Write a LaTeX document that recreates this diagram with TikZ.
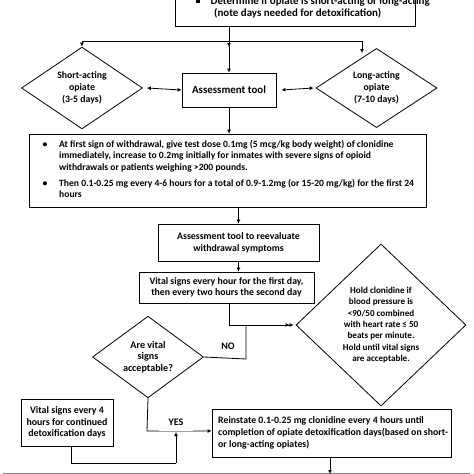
\documentclass[tikz,border=0pt]{standalone}
\usepackage{fontspec}
\setmainfont{Carlito}
\usetikzlibrary{arrows.meta,shapes.geometric}
\newcommand{\fz}[2]{\bfseries\fontsize{#1}{#2}\selectfont}
\tikzset{
  box/.style={draw, line width=0.8pt, fill=white, inner sep=0pt},
  dia/.style={draw, diamond, line width=0.8pt, fill=white, inner sep=0pt, align=center},
  lbl/.style={align=center, inner sep=0pt},
  ltxt/.style={align=left, inner sep=0pt, anchor=north west},
  line/.style={line width=0.8pt},
  arr/.style={line width=0.8pt, -{Latex[length=4pt,width=4pt]}},
  darr/.style={line width=0.8pt, {Latex[length=4pt,width=4pt]}-{Latex[length=4pt,width=4pt]}},
  ddarr/.style={line width=0.8pt, -{Latex[length=4pt,width=4pt]Latex[length=4pt,width=4pt]}},
  tag/.style={fill=white, inner sep=0pt, minimum width=34pt, minimum height=18pt, font=\fz{10}{12}}
}
\begin{document}
\begin{tikzpicture}[x=1pt,y=-1pt]
\useasboundingbox (0,0) rectangle (474,474);
% top box (cut by the top edge)
\node[box, minimum width=240pt, minimum height=50pt] (top) at (295,1) {};
\node[ltxt, font=\fz{10.9}{11.6}] (toptxt) at (196,-3) {\rule[2pt]{3.5pt}{3.5pt}\hspace{11pt}Determine if opiate is short-acting or long-acting\\\hspace{18pt}(note days needed for detoxification)};
% junction
\coordinate (jM) at (229,41);
\coordinate (jL) at (82,41);
\coordinate (jR) at (362,41);
% diamonds
\node[dia, font=\fz{9.8}{12}, minimum width=121pt, minimum height=76pt] (sd) at (82,88) {Short-acting\\opiate\\(3-5 days)};
\node[dia, font=\fz{9.8}{12}, minimum width=121pt, minimum height=76pt] (ld) at (376.5,88) {Long-acting\\opiate\\(7-10 days)};
\node[box, lbl, font=\fz{10.9}{12}, minimum width=94pt, minimum height=34pt] (assess) at (229,90) {Assessment tool};
% big box
\node[box, minimum width=397pt, minimum height=73pt] (big) at (227.5,170.5) {};
\node[lbl, font=\fz{9.6}{11.5}] (b1) at (45,145) {\textbullet};
\node[lbl, font=\fz{9.6}{11.5}] (b2) at (45,184) {\textbullet};
\node[ltxt, font=\fz{9.6}{11.5}] (bigt1) at (59,140) {At first sign of withdrawal, give test dose 0.1mg (5 mcg/kg body weight) of clonidine\\immediately, increase to 0.2mg initially for inmates with severe signs of opioid\\withdrawals or patients weighing >200 pounds.};
\node[ltxt, font=\fz{9.6}{11.5}] (bigt2) at (59,179) {Then 0.1-0.25 mg every 4-6 hours for a total of 0.9-1.2mg (or 15-20 mg/kg) for the first 24\\hours};
% reevaluate
\node[box, lbl, font=\fz{9.8}{12}, minimum width=161pt, minimum height=37pt] (reev) at (238.5,242.5) {Assessment tool to reevaluate\\withdrawal symptoms};
\node[box, lbl, font=\fz{9.8}{11.3}, minimum width=175pt, minimum height=31pt] (vital) at (226.5,287.5) {Vital signs every hour for the first day,\\then every two hours the second day};
% hold diamond
\node[dia, font=\fz{9.1}{11.3}, minimum width=170pt, minimum height=162pt] (hold) at (381,325) {Hold clonidine if\\blood pressure is\\<90/50 combined\\with heart rate ≤ 50\\beats per minute.\\Hold until vital signs\\are acceptable.};
% acceptable diamond
\node[dia, font=\fz{10.1}{11.5}, minimum width=111pt, minimum height=81pt] (acc) at (148,357) {Are vital\\signs\\acceptable?};
% vital 4
\node[box, lbl, font=\fz{9.9}{11.5}, minimum width=92pt, minimum height=47pt] (v4) at (67,422.5) {Vital signs every 4\\hours for continued\\detoxification days};
% reinstate
\node[box, minimum width=239pt, minimum height=48pt] (rein) at (331.5,433) {};
\node[ltxt, font=\fz{9.8}{12}] (reint) at (218,416.5) {Reinstate 0.1-0.25 mg clonidine every 4 hours until\\completion of opiate detoxification days(based on short-\\or long-acting opiates)};
% bottom box (cut)
\node[draw, line width=0.5pt, minimum width=466pt, minimum height=20pt, anchor=north west, gray] (bot) at (3,472.5) {};
% connectors
\draw[arr] (top.south -| jM) -- ([yshift=-6pt]jM);
\draw[line] (jL) -- (jR);
\draw[arr] (jL) -- (sd.north);
\draw[arr] (jR) -- (362,53);
\draw[arr] ([yshift=2pt]jM) -- (assess.north);
\draw[darr] ([xshift=4pt]sd.east) -- (assess.west);
\draw[darr] ([xshift=5pt]assess.east) -- ([xshift=-2pt]ld.west);
\draw[arr] (assess.south) -- (big.north -| assess.south);
\draw[arr] (big.south -| reev.north) -- (reev.north);
\draw[arr] (reev.south) -- (vital.north -| reev.south);
\coordinate (jv) at (229,325);
\draw[line] (vital.south -| jv) -- (jv);
\draw[ddarr] (jv) -- ([xshift=-2pt]hold.west);
\coordinate (jn) at (246,359);
\draw[line] (acc.east) -- (jn) -- (jn |- jv);
\node[tag] (no) at (228,346) {NO};
\coordinate (jy) at (147,431);
\draw[arr] (acc.south) -- (jy) -- (jy -| rein.west);
\node[tag] (yes) at (176,422) {YES};
\coordinate (jb) at (71,463);
\coordinate (jb2) at (176,463);
\draw[line] (v4.south -| jb) -- (jb) -- (jb2);
\draw[arr] (jb2) -- ([yshift=-1pt]jb2 |- jy);
\draw[arr] (rein.south -| 330,0) -- (330,474);
\end{tikzpicture}
\end{document}
